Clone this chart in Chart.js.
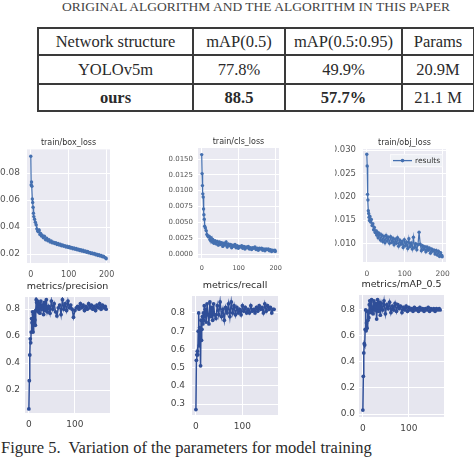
<!DOCTYPE html>
<html>
<head>
<meta charset="utf-8">
<script src="https://cdn.jsdelivr.net/npm/chart.js@4.4.1/dist/chart.umd.min.js"></script>
<style>
  body { margin: 0; width: 474px; height: 458px; overflow: hidden; background: #fff; position: relative; }
  .serif { font-family: "Liberation Serif", "Times New Roman", serif; color: #2a2a2a; }
  #tableTitle { position: absolute; left: 0; top: 0; width: 512px; text-align: center; font-size: 13.5px; line-height: 1; white-space: nowrap; color: #444; }
  #results { position: absolute; left: 37px; top: 27px; width: 436px; border-collapse: collapse; table-layout: fixed; font-size: 16.5px; }
  #results td { border: 2px solid #3a3a3a; text-align: center; padding: 0; white-space: nowrap; }
  #results b { font-weight: bold; }
  canvas { position: absolute; }
  #caption { position: absolute; left: 1px; top: 440px; font-size: 16.5px; line-height: 1; white-space: nowrap; }
</style>
</head>
<body>
<div id="tableTitle" class="serif">ORIGINAL ALGORITHM AND THE ALGORITHM IN THIS PAPER</div>
<table id="results" class="serif">
  <colgroup><col style="width:155px"><col style="width:92px"><col style="width:117px"><col style="width:72px"></colgroup>
  <tr style="height:27px"><td>Network structure</td><td>mAP(0.5)</td><td>mAP(0.5:0.95)</td><td>Params</td></tr>
  <tr style="height:29px"><td>YOLOv5m</td><td>77.8%</td><td>49.9%</td><td>20.9M</td></tr>
  <tr style="height:27px"><td><b>ours</b></td><td><b>88.5</b></td><td><b>57.7%</b></td><td>21.1 M</td></tr>
</table>

<canvas id="boxLoss"></canvas>
<canvas id="clsLoss"></canvas>
<canvas id="objLoss"></canvas>
<canvas id="precision"></canvas>
<canvas id="recall"></canvas>
<canvas id="map05"></canvas>

<div id="caption" class="serif">Figure 5.&nbsp; Variation of the parameters for model training</div>

<script>
// epochs sampled for the top row (training losses)
const topEpochs = [0, 1, 2, 3, 4, 5, 6, 7, 8,
  10, 12, 14, 16, 18, 20, 22, 24, 26, 28, 30,
  33, 36, 39, 42, 45, 48, 51, 54, 57, 60,
  63, 66, 69, 72, 75, 78, 81, 84, 87, 90,
  93, 96, 99, 102, 105, 108, 111, 114, 117, 120,
  123, 126, 129, 132, 135, 138, 141, 144, 147, 150,
  153, 156, 159, 162, 165, 168, 171, 174, 177, 180,
  183, 186, 189, 192, 195, 198,
  199];

const boxLoss = [0.0925, 0.0712, 0.0735, 0.0703, 0.0608, 0.0582, 0.0547, 0.0503, 0.0478,
  0.0458, 0.0436, 0.0418, 0.0387, 0.0372, 0.0366, 0.0379, 0.0346, 0.0353, 0.0334, 0.0340,
  0.0321, 0.0333, 0.0306, 0.0318, 0.0299, 0.0306, 0.0290, 0.0298, 0.0283, 0.0289,
  0.0279, 0.0285, 0.0271, 0.0278, 0.0267, 0.0273, 0.0262, 0.0268, 0.0258, 0.0263,
  0.0253, 0.0259, 0.0249, 0.0255, 0.0244, 0.0250, 0.0240, 0.0246, 0.0236, 0.0241,
  0.0231, 0.0237, 0.0227, 0.0232, 0.0222, 0.0228, 0.0218, 0.0223, 0.0213, 0.0219,
  0.0209, 0.0213, 0.0204, 0.0209, 0.0200, 0.0205, 0.0195, 0.0200, 0.0190, 0.0195,
  0.0186, 0.0190, 0.0180, 0.0184, 0.0175, 0.0172,
  0.0166];

const clsLoss = [0.0157, 0.0127, 0.0108, 0.0095, 0.0090, 0.0071, 0.0062, 0.0055, 0.0044,
  0.0041, 0.0037, 0.0031, 0.0029, 0.0027, 0.0028, 0.0023, 0.0026, 0.0021, 0.0019, 0.0023,
  0.0017, 0.0021, 0.0016, 0.0020, 0.0014, 0.0019, 0.0015, 0.0018, 0.0012, 0.0017,
  0.0014, 0.0019, 0.0011, 0.0016, 0.0013, 0.0015, 0.0010, 0.0014, 0.0012, 0.0015,
  0.0010, 0.0013, 0.0009, 0.0012, 0.0011, 0.0013, 0.0009, 0.0012, 0.0008, 0.0011,
  0.0010, 0.0012, 0.0008, 0.0010, 0.0007, 0.0010, 0.0009, 0.0011, 0.0007, 0.0009,
  0.0006, 0.0009, 0.0008, 0.0009, 0.0006, 0.0008, 0.0005, 0.0008, 0.0007, 0.0008,
  0.0005, 0.0007, 0.0004, 0.0006, 0.0005, 0.0006,
  0.0004];

const objLoss = [0.0291, 0.0266, 0.0205, 0.0193, 0.0170, 0.0164, 0.0156, 0.0149, 0.0158,
  0.0146, 0.0151, 0.0138, 0.0142, 0.0129, 0.0134, 0.0123, 0.0127, 0.0118, 0.0124, 0.0112,
  0.0121, 0.0107, 0.0118, 0.0104, 0.0115, 0.0101, 0.0117, 0.0105, 0.0113, 0.0100,
  0.0114, 0.0102, 0.0111, 0.0097, 0.0109, 0.0100, 0.0112, 0.0094, 0.0107, 0.0098,
  0.0104, 0.0091, 0.0108, 0.0095, 0.0103, 0.0089, 0.0110, 0.0093, 0.0101, 0.0088,
  0.0113, 0.0091, 0.0099, 0.0086, 0.0097, 0.0124, 0.0098, 0.0084, 0.0095, 0.0087,
  0.0093, 0.0082, 0.0092, 0.0085, 0.0090, 0.0079, 0.0088, 0.0083, 0.0086, 0.0077,
  0.0085, 0.0075, 0.0083, 0.0072, 0.0080, 0.0074,
  0.0071];

// epochs sampled for the bottom row (validation metrics)
const bottomEpochs = [0, 1, 2, 3, 4, 5, 6, 7, 8, 9, 10, 11, 12, 13, 14, 15, 16, 17, 18, 19, 20,
  22, 24, 26, 28, 30, 32, 34, 36, 38, 40,
  43, 46, 49, 52, 55, 58, 61, 64, 67, 70,
  73, 76, 79, 82, 85, 88, 91, 94, 97, 100,
  103, 106, 109, 112, 115, 118, 121, 124, 127, 130,
  133, 136, 139, 142, 145, 148, 151, 154, 157, 160,
  163, 166,
  168];

const precision = [0.06, 0.27, 0.46, 0.58, 0.55, 0.63, 0.73, 0.70, 0.78, 0.63, 0.76, 0.69, 0.78, 0.72, 0.68, 0.79, 0.87, 0.85, 0.80, 0.86, 0.78,
  0.84, 0.77, 0.86, 0.80, 0.83, 0.76, 0.85, 0.79, 0.87, 0.78,
  0.82, 0.77, 0.86, 0.80, 0.84, 0.78, 0.75, 0.81, 0.83, 0.76,
  0.87, 0.80, 0.84, 0.79, 0.86, 0.81, 0.83, 0.80, 0.74, 0.79,
  0.81, 0.82, 0.80, 0.84, 0.81, 0.83, 0.79, 0.82, 0.80, 0.84,
  0.81, 0.83, 0.80, 0.82, 0.79, 0.83, 0.81, 0.84, 0.80, 0.83,
  0.81, 0.82,
  0.80];

const recall = [0.27, 0.54, 0.57, 0.59, 0.57, 0.70, 0.80, 0.62, 0.72, 0.66, 0.51, 0.76, 0.65, 0.71, 0.78, 0.74, 0.80, 0.76, 0.84, 0.78, 0.82,
  0.75, 0.85, 0.79, 0.74, 0.86, 0.78, 0.83, 0.76, 0.85, 0.79,
  0.77, 0.84, 0.79, 0.86, 0.78, 0.82, 0.76, 0.83, 0.80, 0.85,
  0.78, 0.86, 0.80, 0.84, 0.79, 0.83, 0.80, 0.82, 0.79, 0.84,
  0.81, 0.83, 0.80, 0.82, 0.80, 0.84, 0.81, 0.82, 0.80, 0.83,
  0.81, 0.84, 0.82, 0.83, 0.80, 0.85, 0.81, 0.84, 0.82, 0.83,
  0.80, 0.82,
  0.82];

const mAP05 = [0.03, 0.29, 0.47, 0.54, 0.53, 0.65, 0.80, 0.64, 0.70, 0.66, 0.79, 0.72, 0.78, 0.74, 0.84, 0.87, 0.80, 0.86, 0.78, 0.88, 0.82,
  0.77, 0.87, 0.80, 0.85, 0.73, 0.88, 0.79, 0.86, 0.76, 0.85,
  0.80, 0.87, 0.77, 0.84, 0.81, 0.86, 0.78, 0.83, 0.80, 0.85,
  0.79, 0.84, 0.81, 0.83, 0.78, 0.82, 0.80, 0.83, 0.79, 0.82,
  0.80, 0.81, 0.79, 0.82, 0.80, 0.81, 0.79, 0.82, 0.80, 0.81,
  0.79, 0.81, 0.80, 0.82, 0.79, 0.81, 0.80, 0.81, 0.79, 0.81,
  0.80, 0.81,
  0.80];

Chart.defaults.font.family = "'DejaVu Sans', sans-serif";
Chart.defaults.animation = false;

// grey seaborn-like panel behind the plot area
const plotBg = {
  id: 'plotBg',
  beforeDraw(chart, args, opts) {
    const a = chart.chartArea, ctx = chart.ctx;
    ctx.save();
    ctx.fillStyle = opts.color || '#eaeaf2';
    ctx.fillRect(a.left, a.top, a.right - a.left, a.bottom - a.top);
    ctx.restore();
  }
};

// subplot title, centred over the plot area like matplotlib does
const panelTitle = {
  id: 'panelTitle',
  afterDraw(chart, args, opts) {
    const a = chart.chartArea, ctx = chart.ctx;
    ctx.save();
    ctx.font = opts.size + 'px "DejaVu Sans"';
    ctx.fillStyle = opts.color;
    ctx.textAlign = 'center';
    ctx.textBaseline = 'middle';
    ctx.fillText(opts.text, (a.left + a.right) / 2, a.top - opts.gap);
    ctx.restore();
  }
};

// small matplotlib style legend drawn inside the plot (only obj_loss has one)
const innerLegend = {
  id: 'innerLegend',
  afterDraw(chart, args, opts) {
    if (!opts.show) return;
    const a = chart.chartArea, ctx = chart.ctx, ds = chart.data.datasets[0];
    const x = a.right - 56, y = a.top + 5, w = 53, h = 13;
    ctx.save();
    ctx.fillStyle = '#eef0f5';
    ctx.strokeStyle = '#f9f9fc';
    ctx.lineWidth = 1;
    ctx.fillRect(x, y, w, h);
    ctx.strokeRect(x + 0.5, y + 0.5, w - 1, h - 1);
    ctx.strokeStyle = ds.borderColor;
    ctx.lineWidth = 1.3;
    ctx.beginPath();
    ctx.moveTo(x + 3, y + h / 2);
    ctx.lineTo(x + 22, y + h / 2);
    ctx.stroke();
    ctx.fillStyle = ds.borderColor;
    ctx.beginPath();
    ctx.arc(x + 12.5, y + h / 2, 1.8, 0, Math.PI * 2);
    ctx.fill();
    ctx.fillStyle = '#333';
    ctx.font = '7.5px "DejaVu Sans"';
    ctx.textBaseline = 'middle';
    ctx.fillText(ds.label, x + 25, y + h / 2 + 0.5);
    ctx.restore();
  }
};

function drawPanel(id, epochs, values, s) {
  const c = document.getElementById(id);
  const [l, t, r, b] = s.plot;
  const w = (r - l) + 2 * s.yw;
  const h = (b - t) + s.th + s.xh;
  c.style.left = (l - s.yw) + 'px';
  c.style.top = (t - s.th) + 'px';
  c.width = w; c.height = h;
  c.style.width = w + 'px'; c.style.height = h + 'px';

  new Chart(c, {
    type: 'line',
    data: {
      datasets: [{
        label: 'results',
        data: epochs.map((e, i) => ({ x: e, y: values[i] })),
        borderColor: s.color,
        backgroundColor: s.color,
        borderWidth: s.lw,
        pointRadius: s.pr,
        pointBorderWidth: 0,
        pointBackgroundColor: s.color,
        tension: 0
      }]
    },
    options: {
      responsive: false,
      devicePixelRatio: 1,
      events: [],
      layout: { autoPadding: false, padding: { top: s.th, right: s.yw } },
      plugins: {
        legend: { display: false },
        tooltip: { enabled: false },
        title: { display: false },
        panelTitle: { text: s.title, size: s.titleSize, color: s.titleColor, gap: s.titleGap },
        plotBg: { color: s.bg },
        innerLegend: { show: !!s.legend }
      },
      scales: {
        x: {
          type: 'linear',
          min: s.xMin, max: s.xMax,
          border: { display: false },
          grid: { color: '#ffffff', lineWidth: 1, drawTicks: false },
          ticks: {
            stepSize: 100, includeBounds: false, maxRotation: 0,
            padding: s.xPad, color: s.tickColor, font: { size: s.xFont },
            callback: v => String(v)
          },
          afterFit: sc => { sc.height = s.xh; }
        },
        y: {
          min: s.yMin, max: s.yMax,
          border: { display: false },
          grid: { color: '#ffffff', lineWidth: 1, drawTicks: false },
          ticks: {
            stepSize: s.yStep, includeBounds: false,
            padding: s.yPad, color: s.tickColor, font: { size: s.yFont },
            callback: v => v.toFixed(s.dec)
          },
          afterFit: sc => { sc.width = s.yw; }
        }
      }
    },
    plugins: [plotBg, panelTitle, innerLegend]
  });
}

const topStyle = { color: '#4570b0', lw: 1.2, pr: 1.7, bg: '#eaeaf2', titleColor: '#333', tickColor: '#555',
  titleSize: 8, titleGap: 6, th: 11, xh: 15, xMin: -10, xMax: 209 };
const bottomStyle = { color: '#2f4e98', lw: 1.5, pr: 1.9, bg: '#e6e6ef', titleColor: '#2a2a2a', tickColor: '#444',
  titleSize: 9.5, titleGap: 10, th: 16, xh: 15, xMin: -8.4, xMax: 176.4, xFont: 9, xPad: 6 };

drawPanel('boxLoss', topEpochs, boxLoss, Object.assign({}, topStyle, {
  title: 'train/box_loss', plot: [27, 148, 110, 263], yw: 27,
  yMin: 0.0134, yMax: 0.0976, yStep: 0.02, dec: 2, yFont: 9, yPad: 7, xFont: 8, xPad: 7 }));

drawPanel('clsLoss', topEpochs, clsLoss, Object.assign({}, topStyle, {
  title: 'train/cls_loss', plot: [198, 148, 279, 258], yw: 32,
  yMin: -0.00063, yMax: 0.01674, yStep: 0.0025, dec: 4, yFont: 7, yPad: 5, xFont: 6.5, xPad: 6 }));

drawPanel('objLoss', topEpochs, objLoss, Object.assign({}, topStyle, {
  title: 'train/obj_loss', plot: [363, 148, 446, 262], yw: 28, legend: true,
  yMin: 0.0060, yMax: 0.0302, yStep: 0.005, dec: 3, yFont: 8.5, yPad: 7, xFont: 7.5, xPad: 8 }));

drawPanel('precision', bottomEpochs, precision, Object.assign({}, bottomStyle, {
  title: 'metrics/precision', plot: [25, 297, 110, 413], yw: 25,
  yMin: 0.03, yMax: 0.89, yStep: 0.2, dec: 1, yFont: 9, yPad: 5 }));

drawPanel('recall', bottomEpochs, recall, Object.assign({}, bottomStyle, {
  title: 'metrics/recall', plot: [192, 296, 278, 415], yw: 30,
  yMin: 0.24, yMax: 0.893, yStep: 0.1, dec: 1, yFont: 9, yPad: 7 }));

drawPanel('map05', bottomEpochs, mAP05, Object.assign({}, bottomStyle, {
  title: 'metrics/mAP_0.5', plot: [359, 295, 444, 417], yw: 30,
  yMin: -0.023, yMax: 0.915, yStep: 0.2, dec: 1, yFont: 9, yPad: 4 }));
</script>
</body>
</html>
